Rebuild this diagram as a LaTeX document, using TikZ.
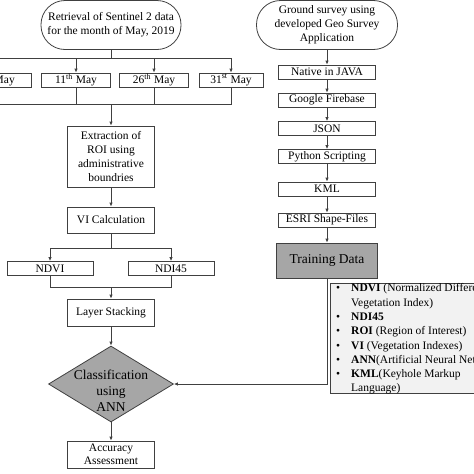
\documentclass[tikz,border=0pt]{standalone}
\usepackage{fontspec}
\setmainfont{Liberation Serif}
\usetikzlibrary{arrows.meta,shapes.geometric}
\definecolor{darkfill}{RGB}{166,166,166}
\definecolor{keyfill}{RGB}{242,242,242}
\definecolor{linegray}{RGB}{64,64,64}
\newcommand{\keyitem}{\makebox[15pt][l]{\textbullet}}

\begin{document}
\begin{tikzpicture}[x=1pt,y=-1pt,
  every node/.style={font=\fontsize{11.5}{14}\selectfont, align=center, inner sep=0pt},
  line/.style={draw=linegray, line width=0.8pt},
  arr/.style={line, -{Latex[length=4pt,width=3.5pt]}},
  terminal/.style={line, rounded corners=24pt, minimum height=49pt},
  box/.style={line, minimum height=14pt},
  bigbox/.style={line, minimum width=87pt},
  darkbox/.style={line, fill=darkfill, minimum width=101pt, minimum height=35pt, font=\fontsize{13.5}{16}\selectfont},
  decision/.style={line, diamond, fill=darkfill, minimum width=125pt, minimum height=76pt}]
\useasboundingbox (0,0) rectangle (474,474);

% Sentinel 2 branch
\node[terminal, minimum width=140pt] (ret) at (111,25) {Retrieval of Sentinel 2 data\\for the month of May, 2019};
\node[box, minimum width=68pt] (d1) at (-3,80) {1\textsuperscript{st} May};
\node[box, minimum width=69pt] (d2) at (76,80) {11\textsuperscript{th} May};
\node[box, minimum width=69pt] (d3) at (154,80) {26\textsuperscript{th} May};
\node[box, minimum width=64pt] (d4) at (231,80) {31\textsuperscript{st} May};
\coordinate (fork1) at (111,58);
\coordinate (join1) at (111,104);
\draw[line] (ret) -- (fork1);
\foreach \d in {d1,d2,d3,d4} {
  \draw[arr] (fork1) -| (\d.north);
  \draw[line] (\d.south) |- (join1);
}

\node[bigbox, minimum height=61pt] (roi) at (111,156.5) {Extraction of\\ROI using\\administrative\\boundries};
\draw[arr] (join1) -- (roi);
\node[bigbox, minimum height=26pt] (vi) at (111,220) {VI Calculation};
\draw[arr] (roi) -- (vi);

% indices
\node[box, minimum width=86pt] (ndvi) at (50,268.5) {NDVI};
\node[box, minimum width=86pt] (ndi) at (171,268.5) {NDI45};
\coordinate (fork2) at (111,248);
\coordinate (join2) at (111,287);
\draw[line] (vi) -- (fork2);
\foreach \v in {ndvi,ndi} {
  \draw[arr] (fork2) -| (\v.north);
  \draw[line] (\v.south) |- (join2);
}
\node[bigbox, minimum height=27pt] (stack) at (111,312.5) {Layer Stacking};
\draw[arr] (join2) -- (stack);

% Classification
\node[decision] (cls) at (111,384) {};
\node[font=\fontsize{13.5}{16}\selectfont] (clstext) at (111,391) {Classification\\using\\ANN};
\draw[arr] (stack) -- (cls);
\node[bigbox, minimum height=27pt, font=\fontsize{11.5}{13}\selectfont] (acc) at (111,454.5) {Accuracy\\Assessment};
\draw[arr] (cls) -- (acc);

% Ground survey branch
\node[terminal, minimum width=141pt] (survey) at (327,25) {Ground survey using\\developed Geo Survey\\Application};
\node[box, minimum width=97pt] (java) at (327,72) {Native in JAVA};
\node[box, minimum width=97pt] (fire) at (327,100) {Google Firebase};
\node[box, minimum width=97pt] (json) at (327,128.5) {JSON};
\node[box, minimum width=97pt] (py) at (327,156.5) {Python Scripting};
\node[box, minimum width=97pt] (kml) at (327,189) {KML};
\node[box, minimum width=97pt] (esri) at (327,220) {ESRI Shape-Files};
\node[darkbox] (train) at (327,260.5) {Training Data};
\foreach \a/\b in {survey/java,java/fire,fire/json,json/py,py/kml,kml/esri,esri/train}
  \draw[arr] (\a) -- (\b);
\draw[arr] (train) |- (cls);

% Legend
\draw[line, fill=keyfill] (330,283) rectangle (560,393);
\node[anchor=north west, align=left, font=\fontsize{11.5}{14.3}\selectfont] (key) at (336,283.5) {%
\keyitem\textbf{NDVI} (Normalized Difference\\
\hspace*{15pt}Vegetation Index)\\
\keyitem\textbf{NDI45}\\
\keyitem\textbf{ROI} (Region of Interest)\\
\keyitem\textbf{VI} (Vegetation Indexes)\\
\keyitem\textbf{ANN}(Artificial Neural Network)\\
\keyitem\textbf{KML}(Keyhole Markup\\
\hspace*{15pt}Language)};

\end{tikzpicture}
\end{document}
